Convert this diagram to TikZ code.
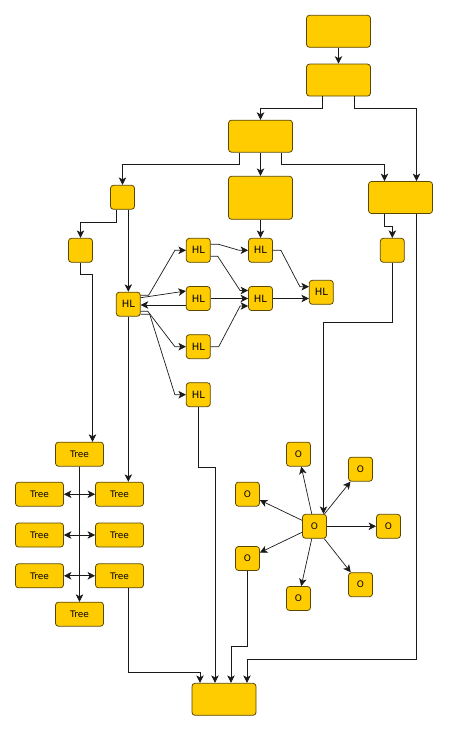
\documentclass[tikz,border=0pt]{standalone}
\usepackage{fontspec}
\setsansfont{DejaVu Sans}
\usetikzlibrary{arrows.meta, positioning}
\definecolor{boxfill}{HTML}{FFCC00}
\definecolor{boxline}{HTML}{5A4800}
\definecolor{edgeline}{HTML}{1A1A1A}

\begin{document}
\begin{tikzpicture}[
    x=1pt, y=-1pt,
    >={Stealth[length=7.5pt, width=7.5pt, inset=2pt]},
    box/.style={draw=boxline, fill=boxfill, line width=0.8pt, rounded corners=3pt, inner sep=0pt, align=center, font=\sffamily\fontsize{9}{10}\selectfont},
    wide/.style={box, minimum width=64pt, minimum height=32pt},
    small/.style={box, minimum width=24pt, minimum height=24pt},
    hlbox/.style={small, font=\sffamily\fontsize{10}{11}\selectfont},
    treebox/.style={box, minimum width=48pt, minimum height=24pt},
    flow/.style={->, draw=edgeline, line width=0.7pt}
  ]
    \useasboundingbox (0,0) rectangle (448,730);

    \node[wide] (a) at (338.5,31.3) {};
    \node[wide, below=16pt of a] (b) {};
    \node[wide] (c) at (260.5,136.2) {};
    \node[wide, minimum height=43pt] (f) at (260.5,197.8) {};
    \node[wide] (d) at (400.5,197.5) {};
    \node[small] (e) at (122.5,197.3) {};
    \node[small] (g) at (80.5,250.3) {};
    \node[small] (h) at (392.3,250.3) {};

    \node[hlbox] (hl0) at (128.3,304.2) {HL};
    \node[hlbox] (hl1) at (198.3,250.3) {HL};
    \node[hlbox] (hl2) at (198.3,298.5) {HL};
    \node[hlbox] (hl3) at (198.3,346.7) {HL};
    \node[hlbox] (hl4) at (198.3,394.7) {HL};
    \node[hlbox] (hl5) at (260.5,250.3) {HL};
    \node[hlbox] (hl6) at (260.5,298.5) {HL};
    \node[hlbox] (hl7) at (321.3,292.3) {HL};

    \node[treebox] (t0) at (79.5,454.2) {Tree};
    \node[treebox] (tl1) at (39.5,494.2) {Tree};
    \node[treebox, below=16pt of tl1] (tl2) {Tree};
    \node[treebox, below=16pt of tl2] (tl3) {Tree};
    \node[treebox] (tr1) at (119.5,494.2) {Tree};
    \node[treebox, below=16pt of tr1] (tr2) {Tree};
    \node[treebox, below=16pt of tr2] (tr3) {Tree};
    \node[treebox] (tb) at (79.5,614.2) {Tree};

    \node[small] (oc) at (314.5,526.3) {O};
    \node[small] (ot) at (298.5,454.2) {O};
    \node[small] (one) at (360.5,469.2) {O};
    \node[small] (ow) at (247.5,494.2) {O};
    \node[small] (oe) at (388.5,526.3) {O};
    \node[small] (osw) at (247.5,558.5) {O};
    \node[small] (ose) at (360.5,584.7) {O};
    \node[small] (os) at (298.5,598.5) {O};

    \node[wide] (z) at (224,699.3) {};

    \draw[flow] (a) -- (b);
    \draw[flow] ([xshift=-16pt]b.south) -- ++(0,12) -| (c);
    \draw[flow] ([xshift=16pt]b.south) -- ++(0,12) -| ([xshift=16pt]d.north);
    \draw[flow] ([xshift=-21pt]c.south) -- ++(0,12) -| (e);
    \draw[flow] (c) -- (f);
    \draw[flow] ([xshift=21pt]c.south) -- ++(0,12) -| ([xshift=-16pt]d.north);
    \draw[flow] ([xshift=-6pt]e.south) -- ++(0,13) -| (g);
    \draw[flow] (e.south -| hl0) -- (hl0);
    \draw[flow] (f) -- (hl5);
    \draw[flow] ([xshift=-16pt]d.south) -- ++(0,12.4) -| (h);

    \draw[flow] ([yshift=9pt]hl0.east) -- ++(8,0) -- ([xshift=-11pt]hl1.west) -- (hl1.west);
    \draw[flow] ([yshift=6.5pt]hl0.east) -- ([yshift=7.5pt]hl2.west);
    \draw[flow] ([yshift=-6.5pt]hl2.west) -- ([yshift=-6.5pt]hl2.west -| hl0.east);
    \draw[flow] ([yshift=-7pt]hl0.east) -- ++(7,0) -- ([xshift=-11pt]hl3.west) -- (hl3.west);
    \draw[flow] ([yshift=-10pt]hl0.east) -- ++(9,0) -- ([xshift=-11pt]hl4.west) -- (hl4.west);
    \draw[flow] ([yshift=6pt]hl1.east) -- ++(8,0) -- ([xshift=-9pt]hl5.west) -- (hl5.west);
    \draw[flow] ([yshift=-6pt]hl1.east) -- ++(7,0) -- ([xshift=-8pt, yshift=8pt]hl6.west) -- ([yshift=8pt]hl6.west);
    \draw[flow] (hl2) -- (hl6);
    \draw[flow] (hl3.east) -- ++(8,0) -- ([xshift=-8pt, yshift=-7.5pt]hl6.west) -- ([yshift=-7.5pt]hl6.west);
    \draw[flow] (hl5.east) -- ++(8,0) -- ([xshift=-9pt, yshift=5.6pt]hl7.west) -- ([yshift=5.6pt]hl7.west);
    \draw[flow] (hl6) -- (hl6 -| hl7.west);

    \draw[flow] (g.south) -- ++(0,12) -| ([xshift=13pt]t0.north);
    \draw[flow] (hl0) -- (hl0 |- tr1.north);
    \foreach \t in {tl1,tl2,tl3,tr1,tr2,tr3}
      \draw[flow] (t0.south) |- (\t);
    \draw[flow] (t0) -- (tb);

    \draw[flow] (h.south) -- ++(0,60) -| ([xshift=9pt]oc.north);
    \foreach \o in {ot,one,ow,oe,osw,ose,os}
      \draw[flow] (oc) -- (\o);

    \draw[flow] ([xshift=9pt]tr3.south) -- ++(0,84) -| ([xshift=-24pt]z.north);
    \draw[flow] (hl4.south) -- ++(0,60.6) -| ([xshift=-9pt]z.north);
    \draw[flow] (osw.south) -- ++(0,75.7) -| ([xshift=7pt]z.north);
    \draw[flow] ([xshift=16pt]d.south) -- ++(0,445.7) -| ([xshift=23pt]z.north);
  \end{tikzpicture}
\end{document}
